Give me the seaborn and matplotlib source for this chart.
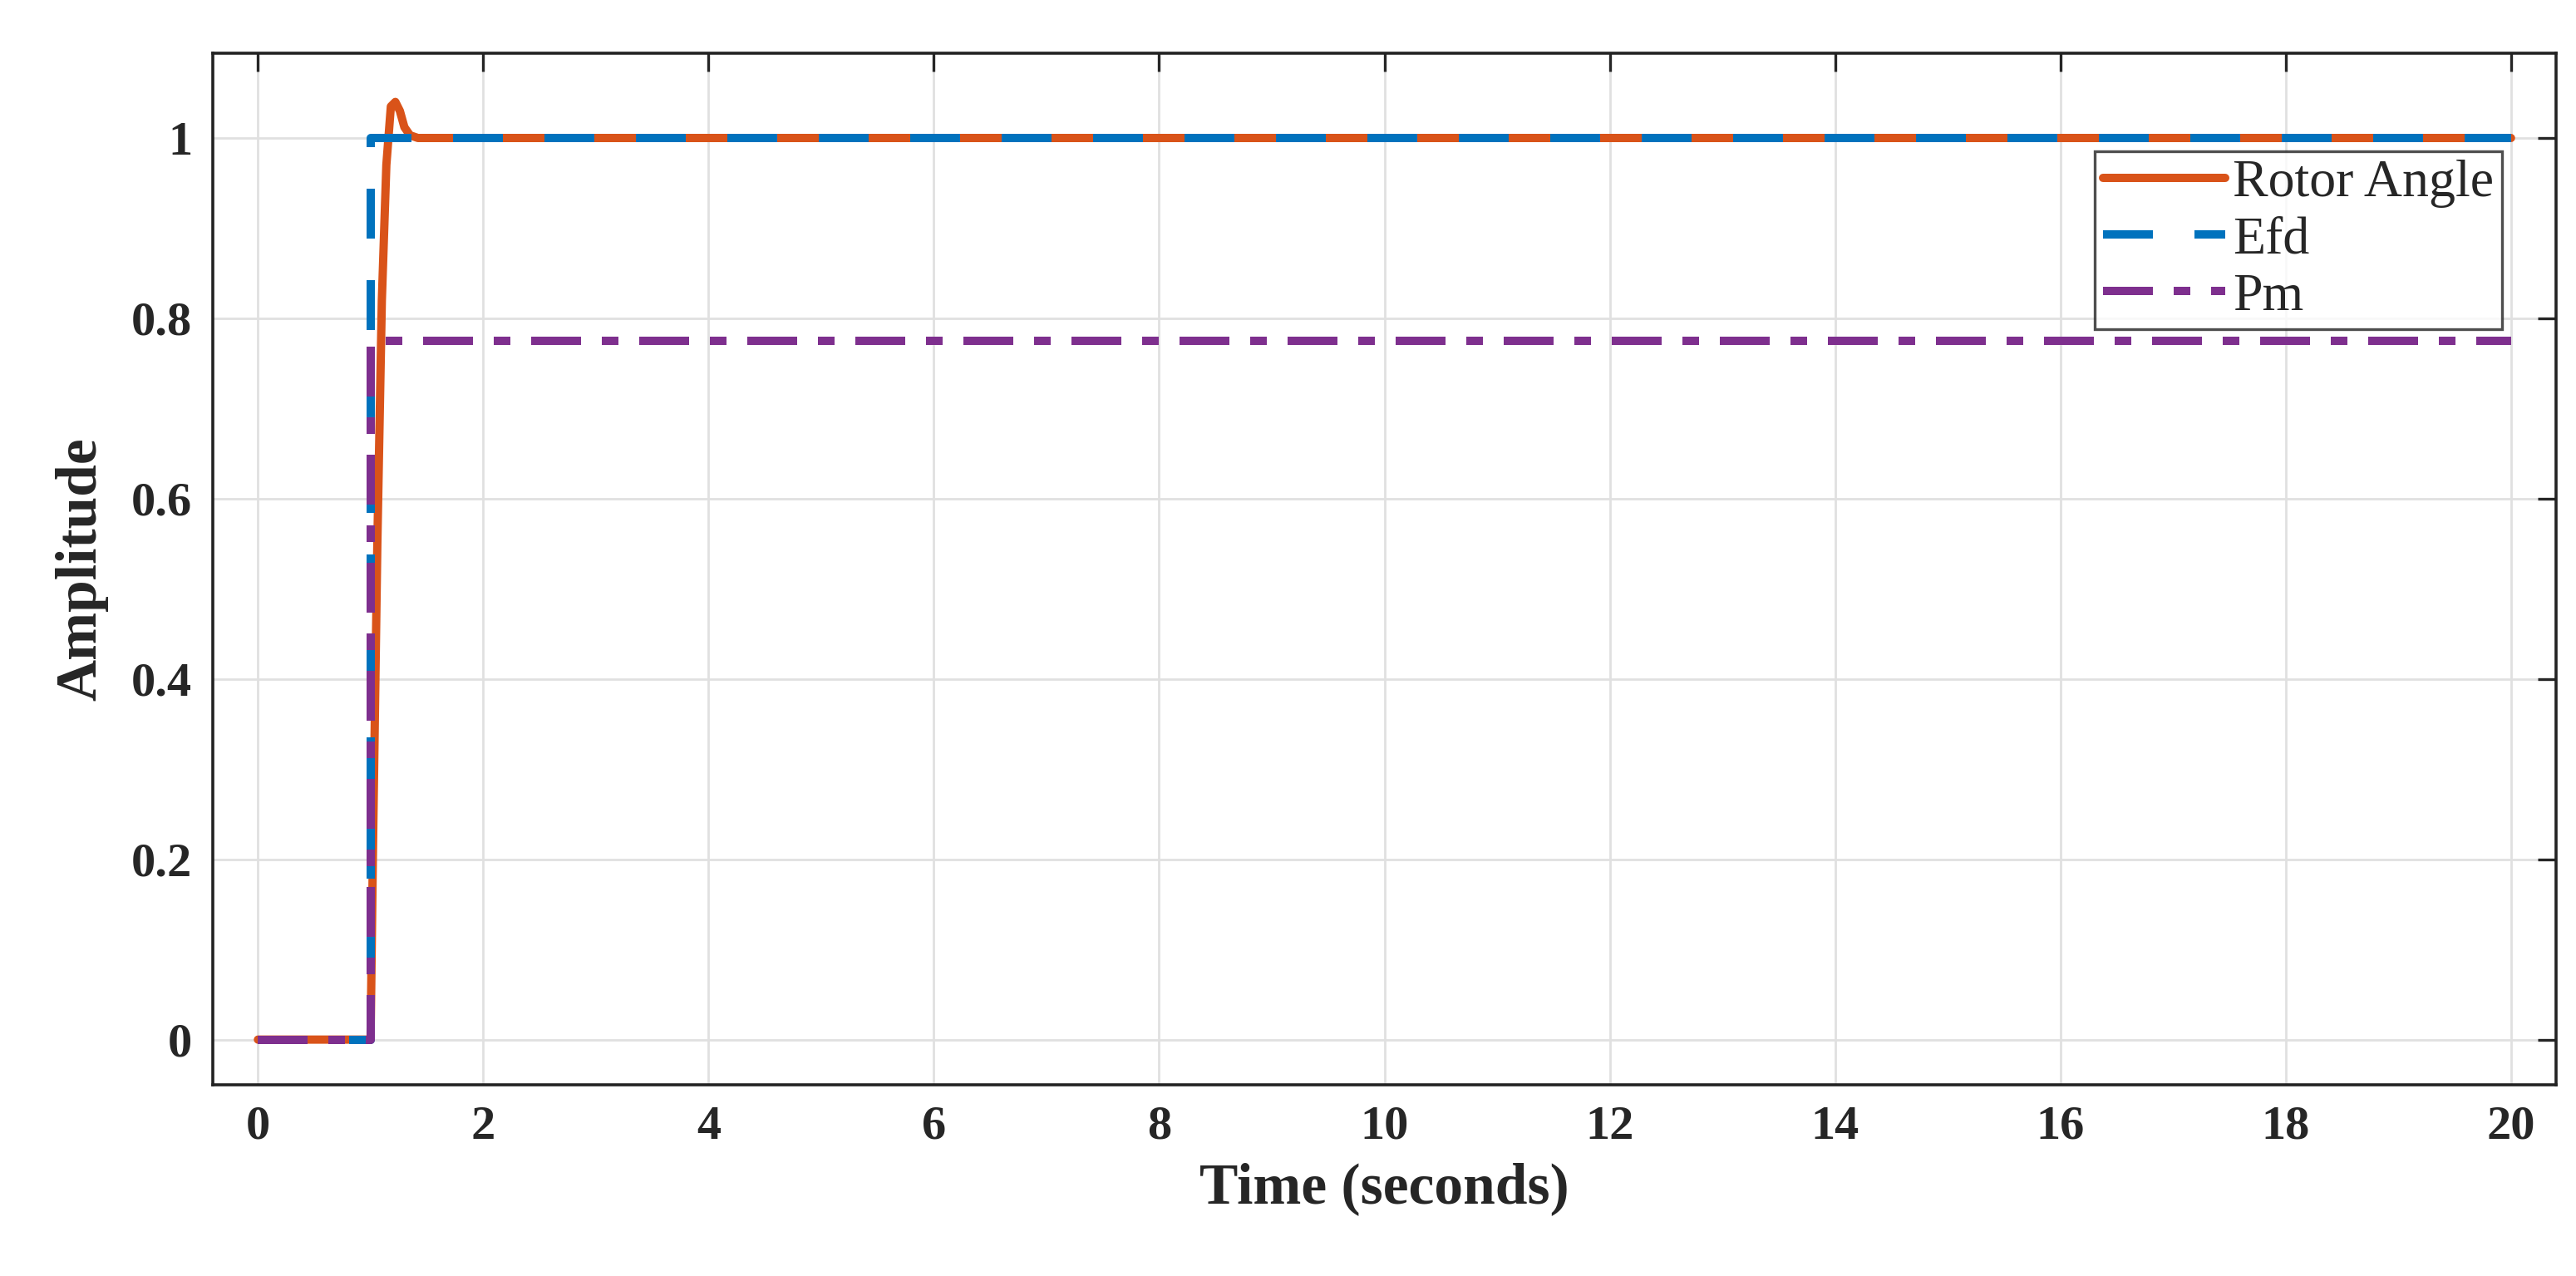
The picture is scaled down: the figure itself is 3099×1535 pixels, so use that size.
import matplotlib
matplotlib.use("Agg")
import matplotlib.pyplot as plt
import seaborn as sns
import pandas as pd

rotor_t = [0, 1.0, 1.02, 1.06, 1.1, 1.14, 1.18, 1.22, 1.26, 1.3, 1.35, 1.42, 1.5, 20]
rotor_v = [0, 0, 0.2, 0.55, 0.82, 0.97, 1.035, 1.04, 1.03, 1.012, 1.003, 1.0, 1.0, 1.0]
efd_t = [0, 1.0, 1.0, 20]
efd_v = [0, 0, 1.0, 1.0]
pm_t = [0, 1.0, 1.0, 20]
pm_v = [0, 0, 0.775, 0.775]
xticks = list(range(0, 21, 2))
yticks = [0, 0.2, 0.4, 0.6, 0.8, 1]
ytick_labels = ["0", "0.2", "0.4", "0.6", "0.8", "1"]

sns.set_theme(style="white")
plt.rcParams['font.family'] = ['Liberation Serif', 'DejaVu Serif']

fig = plt.figure(figsize=(15.495, 7.675), dpi=200)
ax = fig.add_axes([128/1549, 1-652/767, (1537-128)/1549, (652-32)/767])

lw = 3.6
sns.lineplot(x=rotor_t, y=rotor_v, ax=ax, color="#D95319", lw=lw, label="Rotor Angle", estimator=None, sort=False)
sns.lineplot(x=efd_t, y=efd_v, ax=ax, color="#0072BD", lw=lw, label="Efd", estimator=None, sort=False)
ax.lines[-1].set_dashes([6, 5])
sns.lineplot(x=pm_t, y=pm_v, ax=ax, color="#7E2F8E", lw=lw, label="Pm", estimator=None, sort=False)
ax.lines[-1].set_dashes([6, 2.5, 2, 2.5])

ax.set_xlim(-0.4, 20.4)
ax.set_ylim(-0.05, 1.094)
ax.set_xticks(xticks)
ax.set_yticks(yticks)
ax.set_yticklabels(ytick_labels)
ax.grid(True, color="#e0e0e0", lw=1)
ax.tick_params(direction="in", length=8, width=1.2, top=True, right=True, labelsize=21, pad=9)
for lab in ax.get_xticklabels() + ax.get_yticklabels():
    lab.set_fontweight("bold")
for s in ax.spines.values():
    s.set_color("#222222"); s.set_linewidth(1.3)
ax.set_xlabel("Time (seconds)", fontsize=25, fontweight="bold", labelpad=6)
ax.set_ylabel("Amplitude", fontsize=25, fontweight="bold", labelpad=10)
leg = ax.legend(loc="upper right", bbox_to_anchor=(0.977, 0.905), fontsize=23, frameon=True, fancybox=False,
                edgecolor="#222222", borderpad=0.15, labelspacing=0.15, handlelength=2.3, handletextpad=0.15, borderaxespad=0)
leg.get_frame().set_linewidth(1.2)
fig.savefig("out.png", dpi=200, facecolor="white")
